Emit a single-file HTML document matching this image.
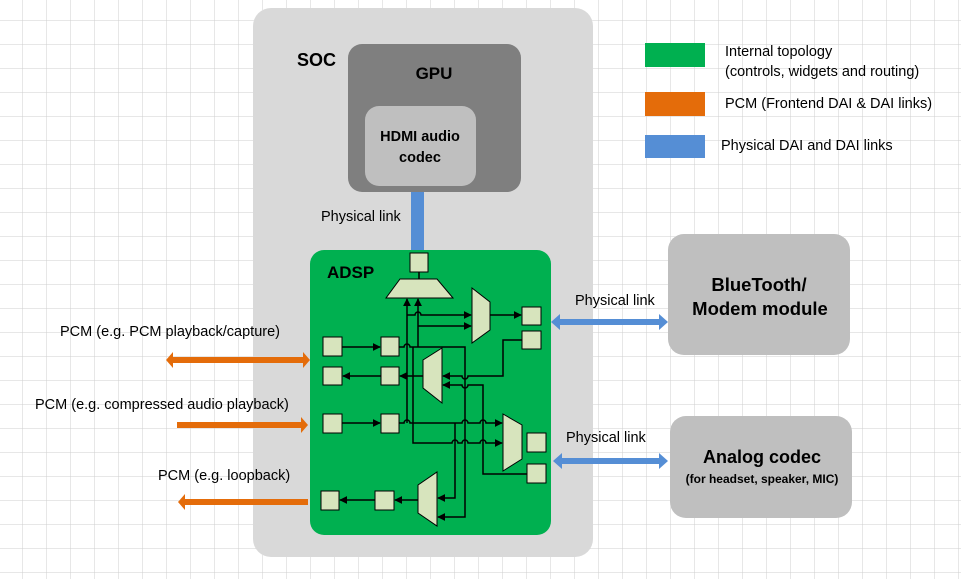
<!DOCTYPE html>
<html><head><meta charset="utf-8"><style>
html,body{margin:0;padding:0;background:#fff;}
svg{display:block;font-family:"Liberation Sans","DejaVu Sans",sans-serif;}
</style></head><body>
<svg width="961" height="579" viewBox="0 0 961 579" xmlns="http://www.w3.org/2000/svg">
<defs>
<pattern id="g" x="22.5" y="20.5" width="24" height="24" patternUnits="userSpaceOnUse">
<path d="M0 0H24M0 0V24" stroke="#cfcfcf" stroke-width="1" fill="none"/>
</pattern>
<marker id="a" viewBox="0 0 10 10" refX="9" refY="5" markerWidth="8" markerHeight="8" orient="auto" markerUnits="userSpaceOnUse"><path d="M0 0L10 5L0 10z" fill="#000"/></marker>
</defs>
<rect width="961" height="579" fill="url(#g)"/>
<rect x="253" y="8" width="340" height="549" rx="18" fill="#d9d9d9"/>
<text x="297" y="66" font-size="18" font-weight="bold">SOC</text>
<rect x="348" y="44" width="173" height="148" rx="14" fill="#7f7f7f"/>
<text x="434" y="79" font-size="17" font-weight="bold" text-anchor="middle">GPU</text>
<rect x="365" y="106" width="111" height="80" rx="14" fill="#bfbfbf"/>
<text x="420" y="141" font-size="14.5" font-weight="bold" text-anchor="middle">HDMI audio</text>
<text x="420" y="162" font-size="14.5" font-weight="bold" text-anchor="middle">codec</text>
<rect x="411" y="192" width="13" height="61" fill="#558ed5"/>
<text x="321" y="221" font-size="14.5">Physical link</text>
<rect x="310" y="250" width="241" height="285" rx="14" fill="#00b050"/>
<text x="327" y="278" font-size="17" font-weight="bold">ADSP</text>
<g fill="#d7e4bd" stroke="#000" stroke-width="1">
<rect x="410" y="253" width="18" height="19"/>
<polygon points="400,279 437,279 453,298 386,298"/>
<polygon points="472,288 490,302 490,330 472,343"/>
<rect x="522" y="307" width="19" height="18"/>
<rect x="522" y="331" width="19" height="18"/>
<rect x="323" y="337" width="19" height="19"/>
<rect x="381" y="337" width="18" height="19"/>
<rect x="323" y="367" width="19" height="18"/>
<rect x="381" y="367" width="18" height="18"/>
<polygon points="423,360 442,348 442,403 423,388"/>
<rect x="323" y="414" width="19" height="19"/>
<rect x="381" y="414" width="18" height="19"/>
<polygon points="503,414 522,425 522,459 503,471"/>
<rect x="527" y="433" width="19" height="19"/>
<rect x="527" y="464" width="19" height="19"/>
<polygon points="418,485 437,472 437,526 418,513"/>
<rect x="321" y="491" width="18" height="19"/>
<rect x="375" y="491" width="19" height="19"/>
</g>
<g stroke="#000" stroke-width="1.5" fill="none">
<path d="M419 272V279"/>
<path d="M407 423V299" marker-end="url(#a)"/>
<path d="M418 347V299" marker-end="url(#a)"/>
<path d="M407 315H415a3 3 0 0 1 6 0H471" marker-end="url(#a)"/>
<path d="M418 326H471" marker-end="url(#a)"/>
<path d="M490 315H521" marker-end="url(#a)"/>
<path d="M342 347H380" marker-end="url(#a)"/>
<path d="M399 347H404a3 3 0 0 1 6 0H465V517H438" marker-end="url(#a)"/>
<path d="M413 347V443H452a3 3 0 0 1 6 0H462a3 3 0 0 1 6 0H480a3 3 0 0 1 6 0H502" marker-end="url(#a)"/>
<path d="M423 376H400" marker-end="url(#a)"/>
<path d="M381 376H343" marker-end="url(#a)"/>
<path d="M522 340H503V376H468a3 3 0 0 1 -6 0H443" marker-end="url(#a)"/>
<path d="M527 474H483V385H468a3 3 0 0 1 -6 0H443" marker-end="url(#a)"/>
<path d="M342 423H380" marker-end="url(#a)"/>
<path d="M399 423H404a3 3 0 0 1 6 0H462a3 3 0 0 1 6 0H480a3 3 0 0 1 6 0H502" marker-end="url(#a)"/>
<path d="M455 423V498H438" marker-end="url(#a)"/>
<path d="M418 500H395" marker-end="url(#a)"/>
<path d="M375 500H340" marker-end="url(#a)"/>
</g>
<g fill="#558ed5">
<polygon points="551,322 560,314 560,319 659,319 659,314 668,322 659,330 659,325 560,325 560,330"/>
<polygon points="553,461 562,453 562,458 659,458 659,453 668,461 659,469 659,464 562,464 562,469"/>
</g>
<text x="575" y="305" font-size="14.5">Physical link</text>
<text x="566" y="442" font-size="14.5">Physical link</text>
<rect x="668" y="234" width="182" height="121" rx="16" fill="#bfbfbf"/>
<text x="759" y="291" font-size="18.5" font-weight="bold" text-anchor="middle">BlueTooth/</text>
<text x="760" y="315" font-size="18.5" font-weight="bold" text-anchor="middle">Modem module</text>
<rect x="670" y="416" width="182" height="102" rx="16" fill="#bfbfbf"/>
<text x="762" y="463" font-size="18" font-weight="bold" text-anchor="middle">Analog codec</text>
<text x="762" y="483" font-size="12" font-weight="bold" text-anchor="middle">(for headset, speaker, MIC)</text>
<g fill="#e46c0a">
<polygon points="166,360 173,352 173,357 303,357 303,352 310,360 303,368 303,363 173,363 173,368"/>
<polygon points="177,422 301,422 301,417 308,425 301,433 301,428 177,428"/>
<polygon points="178,502 185,494 185,499 308,499 308,505 185,505 185,510"/>
</g>
<text x="60" y="336" font-size="14.5">PCM (e.g. PCM playback/capture)</text>
<text x="35" y="409" font-size="14.5">PCM (e.g. compressed audio playback)</text>
<text x="158" y="480" font-size="14.5">PCM (e.g. loopback)</text>
<rect x="645" y="43" width="60" height="24" fill="#00b050"/>
<rect x="645" y="92" width="60" height="24" fill="#e46c0a"/>
<rect x="645" y="135" width="60" height="23" fill="#558ed5"/>
<text x="725" y="56" font-size="14.5">Internal topology</text>
<text x="725" y="76" font-size="14.5">(controls, widgets and routing)</text>
<text x="725" y="108" font-size="14.5">PCM (Frontend DAI &amp; DAI links)</text>
<text x="721" y="150" font-size="14.5">Physical DAI and DAI links</text>
</svg>
</body></html>
